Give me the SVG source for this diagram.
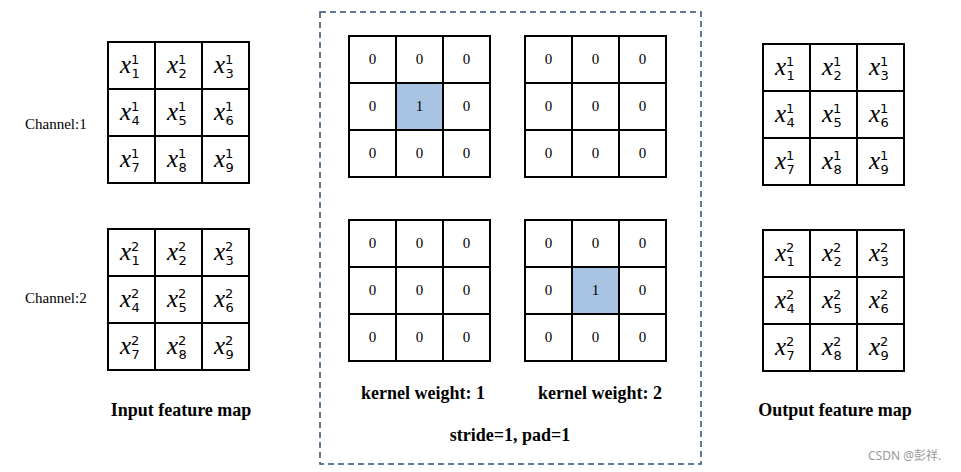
<svg xmlns="http://www.w3.org/2000/svg" width="961" height="472" viewBox="0 0 961 472">
<style>
.g{fill:none;stroke:#000;stroke-width:2}
.k{font-family:"Liberation Serif",serif;font-size:15px;text-anchor:middle}
.x{font-family:"Liberation Serif",serif;font-style:italic;font-size:25px}
.s{font-family:"DejaVu Sans",sans-serif;font-size:13px;font-style:normal}
.l{font-family:"Liberation Serif",serif;font-size:15px}
.b{font-family:"Liberation Serif",serif;font-size:18px;font-weight:bold;text-anchor:middle}
</style>
<defs>
<g id="grid"><rect class="g" x="0" y="0" width="141" height="141"/><path class="g" d="M47 0V141M94 0V141M0 47H141M0 94H141"/></g>
<g id="z"><text class="k" x="23.5" y="28">0</text><text class="k" x="70.5" y="28">0</text><text class="k" x="117.5" y="28">0</text><text class="k" x="23.5" y="75">0</text><text class="k" x="117.5" y="75">0</text><text class="k" x="23.5" y="122">0</text><text class="k" x="70.5" y="122">0</text><text class="k" x="117.5" y="122">0</text></g>
</defs>
<rect width="961" height="472" fill="#fff"/>
<rect x="320" y="12" width="381" height="452" fill="none" stroke="#2f4f7a" stroke-width="1.5" stroke-dasharray="6,4"/>
<g id="in1" transform="translate(108,42)">
<use href="#grid"/>
<g class="x">
<text x="12" y="31">x<tspan class="s" dy="-9">1</tspan><tspan class="s" dx="-8" dy="14">1</tspan></text>
<text x="59" y="31">x<tspan class="s" dy="-9">1</tspan><tspan class="s" dx="-8" dy="14">2</tspan></text>
<text x="106" y="31">x<tspan class="s" dy="-9">1</tspan><tspan class="s" dx="-8" dy="14">3</tspan></text>
<text x="12" y="78">x<tspan class="s" dy="-9">1</tspan><tspan class="s" dx="-8" dy="14">4</tspan></text>
<text x="59" y="78">x<tspan class="s" dy="-9">1</tspan><tspan class="s" dx="-8" dy="14">5</tspan></text>
<text x="106" y="78">x<tspan class="s" dy="-9">1</tspan><tspan class="s" dx="-8" dy="14">6</tspan></text>
<text x="12" y="125">x<tspan class="s" dy="-9">1</tspan><tspan class="s" dx="-8" dy="14">7</tspan></text>
<text x="59" y="125">x<tspan class="s" dy="-9">1</tspan><tspan class="s" dx="-8" dy="14">8</tspan></text>
<text x="106" y="125">x<tspan class="s" dy="-9">1</tspan><tspan class="s" dx="-8" dy="14">9</tspan></text>
</g></g>
<g id="in2" transform="translate(108,229)">
<use href="#grid"/>
<g class="x">
<text x="12" y="31">x<tspan class="s" dy="-9">2</tspan><tspan class="s" dx="-8" dy="14">1</tspan></text>
<text x="59" y="31">x<tspan class="s" dy="-9">2</tspan><tspan class="s" dx="-8" dy="14">2</tspan></text>
<text x="106" y="31">x<tspan class="s" dy="-9">2</tspan><tspan class="s" dx="-8" dy="14">3</tspan></text>
<text x="12" y="78">x<tspan class="s" dy="-9">2</tspan><tspan class="s" dx="-8" dy="14">4</tspan></text>
<text x="59" y="78">x<tspan class="s" dy="-9">2</tspan><tspan class="s" dx="-8" dy="14">5</tspan></text>
<text x="106" y="78">x<tspan class="s" dy="-9">2</tspan><tspan class="s" dx="-8" dy="14">6</tspan></text>
<text x="12" y="125">x<tspan class="s" dy="-9">2</tspan><tspan class="s" dx="-8" dy="14">7</tspan></text>
<text x="59" y="125">x<tspan class="s" dy="-9">2</tspan><tspan class="s" dx="-8" dy="14">8</tspan></text>
<text x="106" y="125">x<tspan class="s" dy="-9">2</tspan><tspan class="s" dx="-8" dy="14">9</tspan></text>
</g></g>
<text class="l" x="25" y="129">Channel:1</text>
<text class="l" x="25" y="303">Channel:2</text>
<g id="k1" transform="translate(349,36)">
<rect x="47" y="47" width="47" height="47" fill="#a9c4e2"/>
<use href="#grid"/><use href="#z"/><text class="k" x="70.5" y="75">1</text></g>
<g id="k2" transform="translate(525,36)"><use href="#grid"/><use href="#z"/><text class="k" x="70.5" y="75">0</text></g>
<g id="k3" transform="translate(349,220)"><use href="#grid"/><use href="#z"/><text class="k" x="70.5" y="75">0</text></g>
<g id="k4" transform="translate(525,220)">
<rect x="47" y="47" width="47" height="47" fill="#a9c4e2"/>
<use href="#grid"/><use href="#z"/><text class="k" x="70.5" y="75">1</text></g>
<g id="out1" transform="translate(763,44)">
<use href="#grid"/>
<g class="x">
<text x="12" y="31">x<tspan class="s" dy="-9">1</tspan><tspan class="s" dx="-8" dy="14">1</tspan></text>
<text x="59" y="31">x<tspan class="s" dy="-9">1</tspan><tspan class="s" dx="-8" dy="14">2</tspan></text>
<text x="106" y="31">x<tspan class="s" dy="-9">1</tspan><tspan class="s" dx="-8" dy="14">3</tspan></text>
<text x="12" y="78">x<tspan class="s" dy="-9">1</tspan><tspan class="s" dx="-8" dy="14">4</tspan></text>
<text x="59" y="78">x<tspan class="s" dy="-9">1</tspan><tspan class="s" dx="-8" dy="14">5</tspan></text>
<text x="106" y="78">x<tspan class="s" dy="-9">1</tspan><tspan class="s" dx="-8" dy="14">6</tspan></text>
<text x="12" y="125">x<tspan class="s" dy="-9">1</tspan><tspan class="s" dx="-8" dy="14">7</tspan></text>
<text x="59" y="125">x<tspan class="s" dy="-9">1</tspan><tspan class="s" dx="-8" dy="14">8</tspan></text>
<text x="106" y="125">x<tspan class="s" dy="-9">1</tspan><tspan class="s" dx="-8" dy="14">9</tspan></text>
</g></g>
<g id="out2" transform="translate(763,230)">
<use href="#grid"/>
<g class="x">
<text x="12" y="31">x<tspan class="s" dy="-9">2</tspan><tspan class="s" dx="-8" dy="14">1</tspan></text>
<text x="59" y="31">x<tspan class="s" dy="-9">2</tspan><tspan class="s" dx="-8" dy="14">2</tspan></text>
<text x="106" y="31">x<tspan class="s" dy="-9">2</tspan><tspan class="s" dx="-8" dy="14">3</tspan></text>
<text x="12" y="78">x<tspan class="s" dy="-9">2</tspan><tspan class="s" dx="-8" dy="14">4</tspan></text>
<text x="59" y="78">x<tspan class="s" dy="-9">2</tspan><tspan class="s" dx="-8" dy="14">5</tspan></text>
<text x="106" y="78">x<tspan class="s" dy="-9">2</tspan><tspan class="s" dx="-8" dy="14">6</tspan></text>
<text x="12" y="125">x<tspan class="s" dy="-9">2</tspan><tspan class="s" dx="-8" dy="14">7</tspan></text>
<text x="59" y="125">x<tspan class="s" dy="-9">2</tspan><tspan class="s" dx="-8" dy="14">8</tspan></text>
<text x="106" y="125">x<tspan class="s" dy="-9">2</tspan><tspan class="s" dx="-8" dy="14">9</tspan></text>
</g></g>
<g id="connectors"/>
<text class="b" x="181" y="416">Input feature map</text>
<text class="b" x="423" y="399">kernel weight: 1</text>
<text class="b" x="600" y="399">kernel weight: 2</text>
<text class="b" x="510" y="441">stride=1, pad=1</text>
<text class="b" x="835" y="416">Output feature map</text>
<text x="868" y="460" font-family="'Noto Sans','Noto Sans CJK SC',sans-serif" font-size="12" fill="#999">CSDN @彭祥.</text>
</svg>
